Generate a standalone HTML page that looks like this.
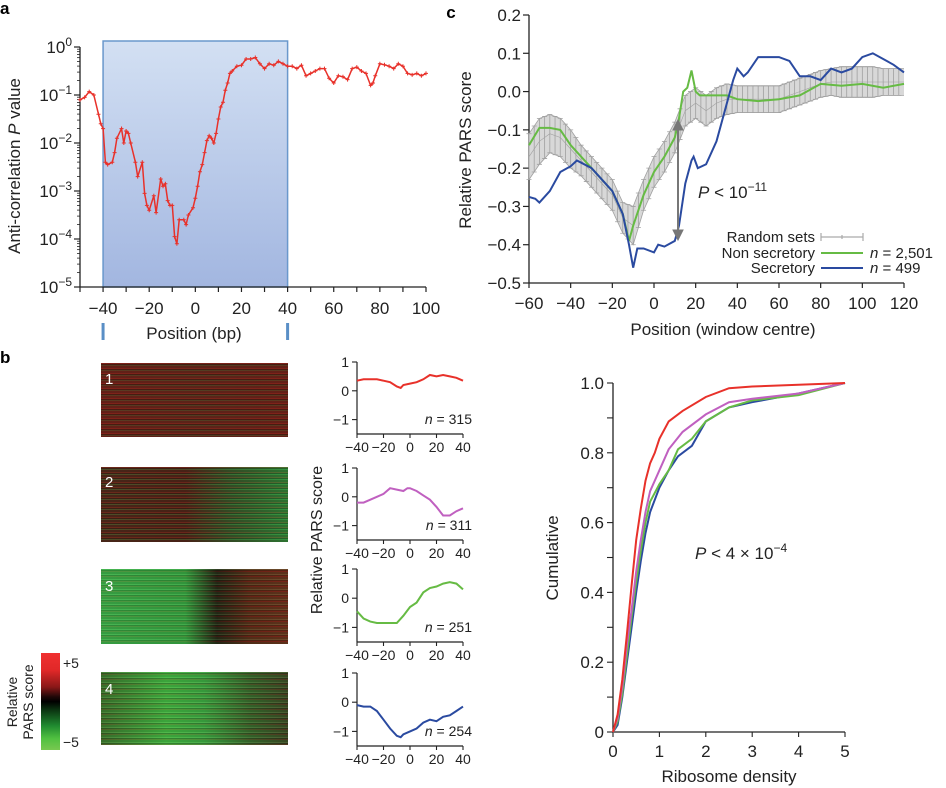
<!DOCTYPE html>
<html><head><meta charset="utf-8">
<style>
html,body{margin:0;padding:0;background:#fff;}
body{width:946px;height:788px;position:relative;overflow:hidden;font-family:"Liberation Sans",sans-serif;}
svg{position:absolute;left:0;top:0;}
.hm{position:absolute;}
</style></head>
<body>
<div class="hm" style="left:101px;top:363px;width:187px;height:74px;background:repeating-linear-gradient(to bottom,rgba(200,30,30,0.35) 0 1px,rgba(40,10,5,0.35) 1px 2px,rgba(90,120,60,0.25) 2px 3px,rgba(120,20,20,0.3) 3px 5px),linear-gradient(to right,#5a2418,#4e2a1a 50%,#5a2418);"></div>
<div class="hm" style="left:101px;top:467px;width:187px;height:75px;background:repeating-linear-gradient(to bottom,rgba(200,40,30,0.25) 0 1px,rgba(20,10,5,0.3) 1px 2px,rgba(80,180,80,0.25) 2px 3px,rgba(60,20,15,0.2) 3px 5px),linear-gradient(to right,#4a2a1a,#4a2418 45%,#2f5a2a 70%,#2a8a3a);"></div>
<div class="hm" style="left:101px;top:569px;width:187px;height:75px;background:repeating-linear-gradient(to bottom,rgba(120,220,120,0.2) 0 1px,rgba(20,40,10,0.25) 1px 2px,rgba(200,40,30,0.15) 2px 3px,rgba(40,100,40,0.2) 3px 5px),linear-gradient(to right,#3aaa48,#34a040 45%,#201810 62%,#5a2014 80%,#6a2418);"></div>
<div class="hm" style="left:101px;top:672px;width:187px;height:73px;background:repeating-linear-gradient(to bottom,rgba(140,220,120,0.2) 0 1px,rgba(20,30,10,0.3) 1px 2px,rgba(180,40,30,0.18) 2px 3px,rgba(40,120,40,0.2) 3px 5px),linear-gradient(to right,#3a6a2a,#40b040 35%,#3aa040 55%,#355a28 80%,#3a3a20);"></div>
<div class="hm" style="left:41px;top:653px;width:19px;height:97px;background:linear-gradient(to bottom,#f03030 0%,#e02828 18%,#8a1818 35%,#200808 45%,#000 50%,#0a3010 58%,#208a30 75%,#50c040 88%,#78c850 100%);"></div>
<svg id="fig" width="946" height="788" viewBox="0 0 946 788"></svg>
<script>
// ---------- Panel a data ----------
const aPos=[-50,-48,-46,-44,-42,-41,-40,-39,-38,-36,-35,-34,-32,-31,-30,-29,-28,-26,-25,-23,-22,-21,-20,-18,-17,-15,-14,-13,-12,-11,-10,-9,-8,-7,-5,-4,-3,-1,0,1,2,3,4,5,6,7,8,9,10,11,12,13,14,15,16,18,20,22,24,26,28,30,32,34,36,38,40,42,44,46,48,50,52,54,56,58,60,62,64,66,68,70,72,74,76,77,78,80,82,84,86,88,90,92,94,96,98,100];
const aLogP=[-1.1,-1.05,-0.93,-1.0,-1.4,-1.6,-1.7,-2.4,-2.45,-2.4,-2.2,-1.9,-1.7,-2.0,-1.75,-1.8,-2.0,-2.4,-2.7,-2.4,-3.05,-3.3,-3.4,-3.1,-3.45,-2.75,-2.9,-2.85,-3.2,-3.3,-3.3,-3.95,-4.1,-3.6,-3.6,-3.7,-3.5,-3.35,-3.15,-2.9,-2.6,-2.45,-2.2,-1.95,-1.85,-1.9,-2.0,-1.8,-1.5,-1.25,-1.15,-0.9,-0.75,-0.55,-0.5,-0.4,-0.38,-0.25,-0.25,-0.22,-0.35,-0.45,-0.35,-0.38,-0.3,-0.35,-0.4,-0.4,-0.45,-0.38,-0.6,-0.55,-0.5,-0.45,-0.45,-0.65,-0.75,-0.6,-0.62,-0.68,-0.45,-0.42,-0.5,-0.55,-0.8,-0.75,-0.6,-0.35,-0.37,-0.4,-0.45,-0.35,-0.4,-0.55,-0.58,-0.55,-0.6,-0.55];
const aXTicks=[-40,-20,0,20,40,60,80,100];
const aYTicks=[0,-1,-2,-3,-4,-5];
// ---------- Panel c data ----------
const cGreenX=[-60,-55,-50,-45,-40,-30,-20,-15,-12,-10,-5,0,5,10,12,14,16,18,20,22,30,35,40,50,60,70,80,90,100,110,120];
const cGreenY=[-0.14,-0.095,-0.095,-0.1,-0.14,-0.2,-0.26,-0.32,-0.39,-0.35,-0.27,-0.21,-0.17,-0.12,-0.07,0.0,0.01,0.055,0.0,-0.01,-0.01,-0.01,-0.02,-0.025,-0.02,-0.01,0.02,0.015,0.02,0.01,0.02];
const cBlueX=[-60,-57,-55,-50,-45,-40,-37,-30,-25,-20,-15,-12,-10,-8,-5,0,2,5,10,12,15,18,19,21,25,30,35,38,40,43,45,50,55,60,65,70,75,80,85,90,95,100,105,110,115,120];
const cBlueY=[-0.275,-0.28,-0.29,-0.26,-0.21,-0.195,-0.18,-0.2,-0.23,-0.26,-0.32,-0.4,-0.46,-0.41,-0.41,-0.42,-0.4,-0.405,-0.39,-0.35,-0.24,-0.18,-0.17,-0.2,-0.19,-0.13,-0.03,0.03,0.06,0.04,0.05,0.09,0.09,0.09,0.08,0.04,0.04,0.03,0.06,0.05,0.06,0.09,0.1,0.085,0.07,0.05];
const cBandX=[-60,-55,-50,-45,-40,-35,-30,-25,-20,-15,-10,-5,0,5,10,15,20,25,30,35,40,45,50,55,60,65,70,75,80,85,90,95,100,105,110,115,120];
const cBandMean=[-0.17,-0.13,-0.11,-0.12,-0.15,-0.18,-0.21,-0.24,-0.27,-0.33,-0.35,-0.27,-0.21,-0.17,-0.12,-0.05,-0.03,-0.05,-0.03,-0.02,-0.02,-0.02,-0.02,-0.02,-0.02,-0.01,0.0,0.01,0.02,0.025,0.025,0.025,0.025,0.025,0.025,0.025,0.025];
const cBandHalf=[0.06,0.06,0.05,0.05,0.05,0.04,0.04,0.04,0.04,0.04,0.05,0.04,0.04,0.04,0.04,0.04,0.04,0.04,0.04,0.04,0.035,0.035,0.035,0.035,0.035,0.035,0.035,0.035,0.035,0.035,0.04,0.04,0.04,0.04,0.035,0.035,0.035];
const cXTicks=[-60,-40,-20,0,20,40,60,80,100,120];
const cYTicks=[0.2,0.1,0.0,-0.1,-0.2,-0.3,-0.4,-0.5];
const cYLabels=["0.2","0.1","0.0","\u22120.1","\u22120.2","\u22120.3","\u22120.4","\u22120.5"];
// ---------- Panel b small plots ----------
const bX1=[-40,-35,-30,-25,-20,-15,-10,-7,-5,0,5,10,15,20,25,30,35,40];
const bY1=[0.35,0.4,0.4,0.4,0.35,0.3,0.15,0.1,0.2,0.25,0.3,0.4,0.55,0.5,0.55,0.5,0.45,0.35];
const bX2=[-40,-35,-30,-25,-20,-15,-10,-5,-2,0,5,10,15,20,25,30,35,40];
const bY2=[-0.2,-0.2,-0.1,0,0.1,0.3,0.25,0.2,0.3,0.3,0.2,0.05,-0.1,-0.35,-0.65,-0.65,-0.5,-0.4];
const bX3=[-40,-35,-30,-25,-20,-15,-10,-5,0,5,10,15,20,25,30,35,40];
const bY3=[-0.45,-0.7,-0.8,-0.85,-0.85,-0.85,-0.85,-0.6,-0.3,-0.15,0.2,0.35,0.4,0.5,0.55,0.5,0.3];
const bX4=[-40,-35,-30,-25,-20,-15,-10,-7,-5,0,5,10,15,20,25,30,35,40];
const bY4=[-0.1,-0.15,-0.15,-0.3,-0.6,-0.9,-1.15,-1.2,-1.1,-1.0,-0.9,-0.7,-0.6,-0.65,-0.5,-0.45,-0.3,-0.15];
const bN=["315","311","251","254"];
const bXTicks=[-40,-20,0,20,40];
const bYTicks=[1,0,-1];
// ---------- Panel d CDFs ----------
const dRedX=[0,0.1,0.2,0.3,0.4,0.5,0.6,0.7,0.8,0.9,1.0,1.2,1.5,2.0,2.5,3,4,5];
const dRedY=[0,0.05,0.15,0.28,0.42,0.55,0.64,0.72,0.77,0.8,0.84,0.89,0.92,0.96,0.985,0.99,0.995,1];
const dMagX=[0,0.1,0.2,0.3,0.4,0.5,0.6,0.7,0.8,1.0,1.2,1.5,2,2.5,3,4,5];
const dMagY=[0,0.04,0.13,0.25,0.35,0.46,0.55,0.63,0.69,0.75,0.81,0.86,0.91,0.945,0.955,0.97,1];
const dGreenX=[0,0.1,0.2,0.3,0.4,0.5,0.6,0.7,0.8,1,1.2,1.4,1.7,2,2.5,3,4,5];
const dGreenY=[0,0.03,0.11,0.22,0.33,0.43,0.52,0.6,0.66,0.71,0.75,0.81,0.84,0.89,0.93,0.95,0.965,1];
const dBlueX=[0,0.1,0.2,0.3,0.4,0.5,0.6,0.7,0.8,1,1.2,1.4,1.7,2,2.5,3,4,5];
const dBlueY=[0,0.02,0.1,0.2,0.3,0.4,0.49,0.57,0.63,0.7,0.75,0.79,0.82,0.89,0.93,0.945,0.97,1];
const dXTicks=[0,1,2,3,4,5];
const dYTicks=[0,0.1,0.2,0.3,0.4,0.5,0.6,0.7,0.8,0.9,1.0];

const NS="http://www.w3.org/2000/svg";
const svg=document.getElementById('fig');
function mk(tag,attrs,parent){const e=document.createElementNS(NS,tag);for(const k in attrs)e.setAttribute(k,attrs[k]);(parent||svg).appendChild(e);return e;}
function txt(s,x,y,size,anchor,parent,extra){const t=mk('text',Object.assign({x:x,y:y,'font-size':size,'text-anchor':anchor||'middle','font-family':'Liberation Sans, sans-serif',fill:'#222'},extra||{}),parent);t.innerHTML=s;return t;}
function pathFrom(xs,ys,sx,sy){return xs.map((v,i)=>(i?'L':'M')+sx(v).toFixed(1)+','+sy(ys[i]).toFixed(1)).join('');}
function minus(v){return String(v).replace('-','\u2212');}

// ===== Panel a =====
const ax=v=>80+(v+50)*(346/150);
const ay=v=>47+(-v)*48;
let t=txt('a',0,14,17,'start',svg,{'font-weight':'bold',fill:'#000'});

const grad=mk('defs',{});
grad.innerHTML='<linearGradient id="boxg" x1="0" y1="0" x2="0" y2="1"><stop offset="0" stop-color="#d3e0f3"/><stop offset="1" stop-color="#a2b6e0"/></linearGradient>';
let box=mk('rect',{x:ax(-40),y:41,width:ax(40)-ax(-40),height:287-41,fill:'url(#boxg)',stroke:'#6a98cc','stroke-width':1.5});

const ga=mk('g',{});
mk('line',{x1:80,y1:ay(0),x2:80,y2:287,stroke:'#222','stroke-width':1.3},ga);
mk('line',{x1:80,y1:287,x2:ax(100),y2:287,stroke:'#222','stroke-width':1.3},ga);
aYTicks.forEach(v=>{mk('line',{x1:74,y1:ay(v),x2:80,y2:ay(v),stroke:'#222','stroke-width':1.2},ga);
 if(v>-5)for(let k=2;k<10;k++){const yy=ay(v-1+Math.log10(k));mk('line',{x1:77,y1:yy,x2:80,y2:yy,stroke:'#222','stroke-width':0.8},ga);}
 const tl=txt('10<tspan font-size="12" dy="-7">'+(v===0?'0':'\u2212'+(-v))+'</tspan>',72,ay(v)+6,17,'end',ga);
 });
for(let v=-50;v<=100;v+=10){mk('line',{x1:ax(v),y1:287,x2:ax(v),y2:292,stroke:'#222','stroke-width':1.2},ga);}
aXTicks.forEach(v=>{const tl=txt(minus(v),ax(v),314,17,'middle',ga);});
t=txt('Position (bp)',194,339,17,'middle');
t=txt('Anti-correlation <tspan font-style="italic">P</tspan> value',0,0,17,'middle',svg,{transform:'translate(20,166) rotate(-90)'});

[-40,40].forEach(v=>{const b=mk('line',{x1:ax(v),y1:323,x2:ax(v),y2:340,stroke:'#5a8fc6','stroke-width':3});});
let pa=mk('path',{d:pathFrom(aPos,aLogP,ax,ay),fill:'none',stroke:'#e8312a','stroke-width':1.5});

const gm=mk('g',{stroke:'#e8312a','stroke-width':1});
aPos.forEach((p,i)=>{const x=ax(p),y=ay(aLogP[i]);mk('path',{d:`M${x-2},${y}H${x+2}M${x},${y-2}V${y+2}`},gm);});

// ===== Panel c =====
const cx=v=>529+(v+60)*(375/180);
const cy=v=>15+(0.2-v)*(268/0.7);
t=txt('c',451,18,17,'middle',svg,{'font-weight':'bold',fill:'#000'});
const gc=mk('g',{});
mk('line',{x1:529,y1:cy(0.2),x2:529,y2:cy(-0.5),stroke:'#222','stroke-width':1.3},gc);
mk('line',{x1:529,y1:cy(-0.5),x2:cx(120),y2:cy(-0.5),stroke:'#222','stroke-width':1.3},gc);
cYTicks.forEach((v,i)=>{mk('line',{x1:523,y1:cy(v),x2:529,y2:cy(v),stroke:'#222','stroke-width':1.2},gc);
 const tl=txt(cYLabels[i],521,cy(v)+6,17,'end',gc);});
cXTicks.forEach(v=>{mk('line',{x1:cx(v),y1:cy(-0.5),x2:cx(v),y2:cy(-0.5)+5,stroke:'#222','stroke-width':1.2},gc);
 const tl=txt(minus(v),cx(v),309,17,'middle',gc);});
t=txt('Position (window centre)',723,335,17,'middle');
t=txt('Relative PARS score',0,0,17,'middle',svg,{transform:'translate(471,150) rotate(-90)'});
const gb=mk('g',{stroke:'#a0a0a0','stroke-width':0.8,fill:'none'});
const upper=cBandMean.map((m,i)=>m+cBandHalf[i]),lower=cBandMean.map((m,i)=>m-cBandHalf[i]);
mk('path',{d:pathFrom(cBandX,upper,cx,cy)+pathFrom(cBandX.slice().reverse(),lower.slice().reverse(),cx,cy).replace('M','L')+'Z',fill:'#d8d8d8',stroke:'none'},gb);
mk('path',{d:pathFrom(cBandX,upper,cx,cy)},gb);
mk('path',{d:pathFrom(cBandX,lower,cx,cy)},gb);
mk('path',{d:pathFrom(cBandX,cBandMean,cx,cy),'stroke-width':0.6},gb);
for(let i=0;i<cBandX.length-1;i++){for(let f=0;f<1;f+=0.5){const x=cBandX[i]+f*(cBandX[i+1]-cBandX[i]);const m=cBandMean[i]+f*(cBandMean[i+1]-cBandMean[i]);const h=cBandHalf[i]+f*(cBandHalf[i+1]-cBandHalf[i]);const xx=cx(x),lo=cy(m-h),hi=cy(m+h);mk('path',{d:`M${xx},${hi}V${lo}M${xx-2.5},${hi}H${xx+2.5}M${xx-2.5},${lo}H${xx+2.5}`},gb);}}
let pg=mk('path',{d:pathFrom(cGreenX,cGreenY,cx,cy),fill:'none',stroke:'#66bb44','stroke-width':2});
let pb=mk('path',{d:pathFrom(cBlueX,cBlueY,cx,cy),fill:'none',stroke:'#2a4aa0','stroke-width':2});
const garr=mk('g',{stroke:'#777',fill:'#777'});
mk('line',{x1:678,y1:128,x2:678,y2:232,'stroke-width':2},garr);
mk('path',{d:'M673,130L678,120L683,130Z'},garr);mk('path',{d:'M673,230L678,240L683,230Z'},garr);
t=txt('<tspan font-style="italic">P</tspan> &lt; 10<tspan font-size="12" dy="-7">\u221211</tspan>',698,198,17,'start');
const gl=mk('g',{});
txt('Random sets',815,242,15,'end',gl);
mk('path',{d:'M821,237H863M821,233V241M842,235V239M863,233V241',stroke:'#aaa','stroke-width':1.2,fill:'none'},gl);
txt('Non secretory',815,258,15,'end',gl);mk('line',{x1:821,y1:253,x2:863,y2:253,stroke:'#66bb44','stroke-width':2},gl);
txt('<tspan font-style="italic">n</tspan> = 2,501',870,258,15,'start',gl);
txt('Secretory',815,273,15,'end',gl);mk('line',{x1:821,y1:268,x2:863,y2:268,stroke:'#2a4aa0','stroke-width':2},gl);
txt('<tspan font-style="italic">n</tspan> = 499',870,273,15,'start',gl);

// ===== Panel b =====
t=txt('b',0,363,17,'start',svg,{'font-weight':'bold',fill:'#000'});
[[1,384],[2,487],[3,591],[4,694]].forEach(([n,y])=>{const l=txt(String(n),105,y,15,'start',svg,{fill:'#fff'});});
const bSeries=[[bX1,bY1,'#e8312a',362,434],[bX2,bY2,'#c060c0',468,540],[bX3,bY3,'#66bb44',569,642],[bX4,bY4,'#2a4aa0',673,746]];
const bx=v=>357+(v+40)*(106/80);
bSeries.forEach((s,k)=>{const top=s[3],axisY=s[4];const u=(axisY-top)/2.5;const by=v=>top+(1-v)*u;
 const g=mk('g',{});
 mk('line',{x1:357,y1:top,x2:357,y2:axisY,stroke:'#222','stroke-width':1.2},g);
 mk('line',{x1:357,y1:axisY,x2:bx(40),y2:axisY,stroke:'#222','stroke-width':1.2},g);
 bYTicks.forEach(v=>{mk('line',{x1:352,y1:by(v),x2:357,y2:by(v),stroke:'#222','stroke-width':1.1},g);txt(minus(v),349,by(v)+5,14,'end',g);});
 bXTicks.forEach(v=>{mk('line',{x1:bx(v),y1:axisY,x2:bx(v),y2:axisY+4,stroke:'#222','stroke-width':1.1},g);txt(minus(v),bx(v),axisY+18,14,'middle',g);});
 const p=mk('path',{d:pathFrom(s[0],s[1],bx,by),fill:'none',stroke:s[2],'stroke-width':2},g);
 
 txt('<tspan font-style="italic">n</tspan> = '+bN[k],472,axisY-10,14,'end',g);});
t=txt('Relative PARS score',0,0,16,'middle',svg,{transform:'translate(322,540) rotate(-90)'});
const gcb=mk('g',{});
txt('+5',63,668,14,'start',gcb);txt('\u22125',63,747,14,'start',gcb);
txt('Relative',0,0,14,'middle',gcb,{transform:'translate(17,702) rotate(-90)'});
txt('PARS score',0,0,14,'middle',gcb,{transform:'translate(33,702) rotate(-90)'});

// ===== Panel d =====
const dx=v=>613+v*(232/5);
const dy=v=>732-v*349;
const gd=mk('g',{});
mk('line',{x1:613,y1:dy(1),x2:613,y2:dy(0),stroke:'#222','stroke-width':1.3},gd);
mk('line',{x1:613,y1:dy(0),x2:dx(5),y2:dy(0),stroke:'#222','stroke-width':1.3},gd);
dYTicks.forEach((v,i)=>{mk('line',{x1:607,y1:dy(v),x2:613,y2:dy(v),stroke:'#222','stroke-width':1.1},gd);
 if(i%2===0){const tl=txt(v===0?'0':v.toFixed(1),604,dy(v)+6,17,'end',gd);}});
dXTicks.forEach(v=>{mk('line',{x1:dx(v),y1:dy(0),x2:dx(v),y2:dy(0)+5,stroke:'#222','stroke-width':1.1},gd);
 const tl=txt(String(v),dx(v),757,17,'middle',gd);});
t=txt('Ribosome density',729,782,17,'middle');
t=txt('Cumulative',0,0,17,'middle',svg,{transform:'translate(558,558) rotate(-90)'});
t=txt('<tspan font-style="italic">P</tspan> &lt; 4 × 10<tspan font-size="12" dy="-7">\u22124</tspan>',695,559,17,'start');
[[dBlueX,dBlueY,'#2a4aa0','cdf-cluster-4'],[dGreenX,dGreenY,'#66bb44','cdf-cluster-3'],[dMagX,dMagY,'#c060c0','cdf-cluster-2'],[dRedX,dRedY,'#e8312a','cdf-cluster-1']].forEach(s=>{
 const p=mk('path',{d:pathFrom(s[0],s[1],dx,dy),fill:'none',stroke:s[2],'stroke-width':2});
 });
</script>
</body></html>
